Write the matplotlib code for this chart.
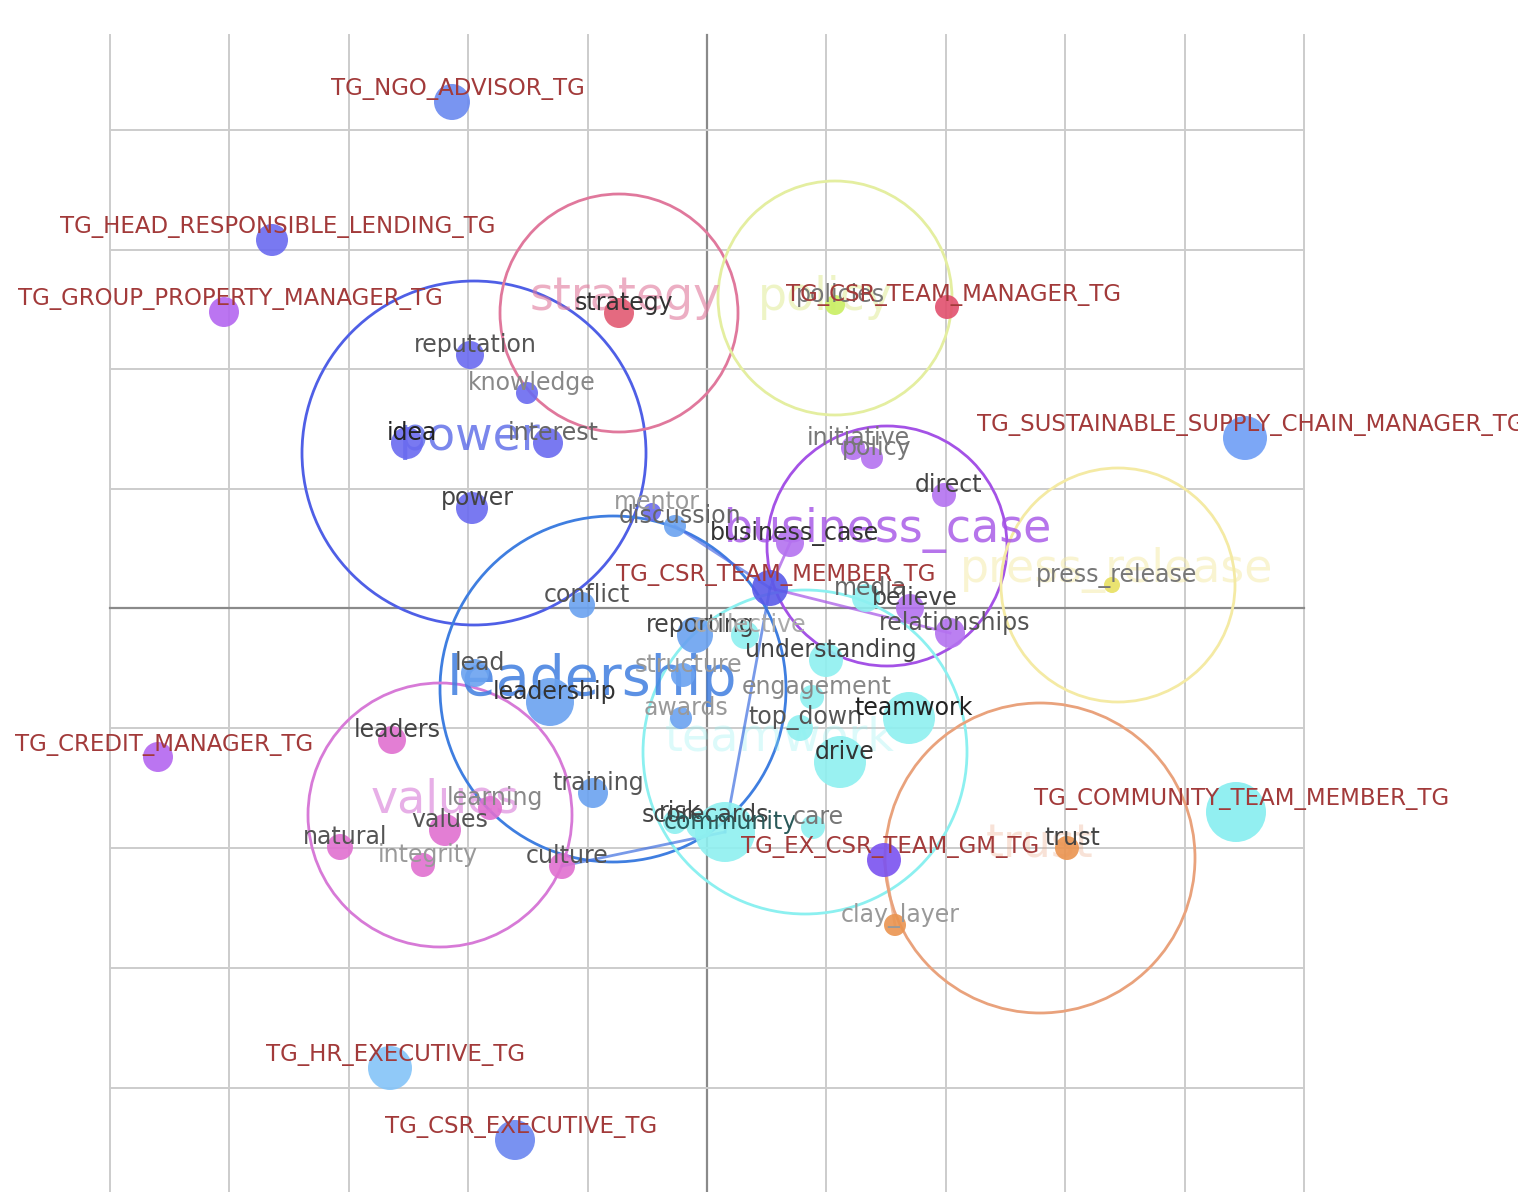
import matplotlib.pyplot as plt
from matplotlib.patches import Circle

# grid (image pixel coordinates, y grows downwards)
grid_x = [110, 229, 349, 468, 588, 707, 826, 946, 1065, 1185, 1304]
grid_y = [130, 250, 369, 489, 608, 728, 848, 968, 1088]
centre_x, centre_y = 707, 608

# themes: name, circle centre, radius, colour, label position
theme_names = ["power", "strategy", "policy", "business_case", "press_release",
               "leadership", "teamwork", "values", "trust"]
theme_x = [474, 619, 835, 887, 1118, 613, 805, 440, 1040]
theme_y = [453, 313, 298, 546, 585, 689, 752, 815, 858]
theme_r = [172, 119, 117, 120, 117, 173, 162, 132, 155]
theme_col = ["#4f5fe6", "#e0789c", "#e4eea0", "#a452e6", "#f4eaa4",
             "#3f7ee0", "#8cf0f0", "#d77ad7", "#e9a27c"]
theme_lx = [470, 625, 825, 888, 1117, 592, 780, 445, 1040]
theme_ly = [438, 298, 298, 530, 570, 680, 738, 800, 845]
theme_alpha = [0.75, 0.6, 0.6, 0.8, 0.5, 0.85, 0.3, 0.6, 0.3]

# concepts: label, dot x, dot y, dot radius, dot colour, text colour
node_names = ["strategy", "policies", "reputation", "knowledge", "idea", "interest",
              "power", "initiative", "policy", "direct", "mentor", "discussion",
              "business_case", "media", "believe", "relationships", "press_release",
              "conflict", "reporting", "collective", "understanding", "lead",
              "structure", "leadership", "engagement", "awards", "top_down",
              "teamwork", "drive", "leaders", "training", "learning", "values",
              "natural", "integrity", "culture", "risk", "scorecards", "community",
              "care", "trust", "clay_layer"]
node_x = [619, 835, 470, 527, 407, 548, 472, 853, 872, 944, 652, 675, 790, 866, 910,
          950, 1112, 582, 695, 745, 826, 475, 683, 550, 812, 681, 800, 909, 840, 392,
          593, 490, 445, 340, 423, 562, 675, 700, 725, 813, 1067, 895]
node_y = [313, 305, 355, 393, 443, 443, 508, 448, 458, 495, 512, 526, 543, 598, 608,
          633, 585, 605, 635, 635, 660, 673, 675, 702, 697, 718, 728, 718, 762, 740,
          793, 808, 830, 847, 865, 866, 822, 825, 832, 827, 848, 925]
node_r = [15, 10, 14, 11, 16, 15, 16, 12, 11, 12, 9, 11, 14, 14, 14, 15, 8, 13, 18,
          14, 17, 14, 12, 24, 12, 11, 13, 26, 26, 14, 15, 12, 16, 13, 12, 13, 12, 14,
          30, 12, 12, 11]
node_col = ["#e25a72", "#c9ef62", "#6a6af0", "#6a6af0", "#6a6af0", "#6a6af0",
            "#6a6af0", "#b472f0", "#b472f0", "#b472f0", "#6a6af0", "#6aa2f0",
            "#b472f0", "#8ef0f0", "#b472f0", "#b472f0", "#e8e060", "#6aa2f0",
            "#6aa2f0", "#8ef0f0", "#8ef0f0", "#6aa2f0", "#6aa2f0", "#6aa2f0",
            "#8ef0f0", "#6aa2f0", "#8ef0f0", "#8ef0f0", "#8ef0f0", "#e070d0",
            "#6aa2f0", "#e070d0", "#e070d0", "#e070d0", "#e070d0", "#e070d0",
            "#8ef0f0", "#8ef0f0", "#8ef0f0", "#8ef0f0", "#ea9450", "#ea9450"]
node_txt = ["#333333", "#777777", "#555555", "#888888", "#222222", "#666666",
            "#444444", "#777777", "#777777", "#444444", "#999999", "#666666",
            "#333333", "#666666", "#444444", "#555555", "#777777", "#555555",
            "#444444", "#aaaaaa", "#444444", "#555555", "#999999", "#333333",
            "#888888", "#999999", "#555555", "#222222", "#333333", "#444444",
            "#555555", "#888888", "#555555", "#555555", "#999999", "#555555",
            "#444444", "#444444", "#2a5a5a", "#777777", "#444444", "#999999"]

# actors (TG_ tags)
actor_names = ["TG_NGO_ADVISOR_TG", "TG_HEAD_RESPONSIBLE_LENDING_TG",
               "TG_GROUP_PROPERTY_MANAGER_TG", "TG_CSR_TEAM_MANAGER_TG",
               "TG_SUSTAINABLE_SUPPLY_CHAIN_MANAGER_TG", "TG_CSR_TEAM_MEMBER_TG",
               "TG_CREDIT_MANAGER_TG", "TG_COMMUNITY_TEAM_MEMBER_TG",
               "TG_EX_CSR_TEAM_GM_TG", "TG_HR_EXECUTIVE_TG", "TG_CSR_EXECUTIVE_TG"]
actor_x = [452, 272, 224, 947, 1245, 770, 158, 1236, 884, 390, 515]
actor_y = [102, 240, 312, 307, 438, 588, 757, 812, 860, 1068, 1140]
actor_r = [18, 16, 15, 12, 22, 18, 15, 30, 17, 22, 20]
actor_col = ["#6a8af0", "#6a6af0", "#b466f0", "#e2506e", "#6e9ef5", "#5a5ae8",
             "#b466f0", "#86eef0", "#7a52f0", "#84c4f8", "#6a86f0"]

# a few concept paths (pairs of node / actor names)
paths = [("business_case", "TG_CSR_TEAM_MEMBER_TG", "#a452e6"),
         ("TG_CSR_TEAM_MEMBER_TG", "relationships", "#a452e6"),
         ("discussion", "TG_CSR_TEAM_MEMBER_TG", "#4f6fe6"),
         ("TG_CSR_TEAM_MEMBER_TG", "community", "#3f6fe0"),
         ("culture", "community", "#3f6fe0"),
         ("TG_EX_CSR_TEAM_GM_TG", "clay_layer", "#e9a27c")]

fig = plt.figure(figsize=(15.18, 11.92), dpi=100)
ax = fig.add_axes([0, 0, 1, 1])
ax.set_xlim(0, 1518)
ax.set_ylim(1192, 0)
ax.set_aspect("equal")
ax.axis("off")

# grid
for gx in grid_x:
    dark = gx == centre_x
    ax.plot([gx, gx], [35, 1192], color="#8a8a8a" if dark else "#cccccc",
            lw=1.6 if dark else 1.4, zorder=0)
for gy in grid_y:
    dark = gy == centre_y
    ax.plot([grid_x[0], grid_x[-1]], [gy, gy], color="#8a8a8a" if dark else "#cccccc",
            lw=1.6 if dark else 1.4, zorder=0)

# theme circles
for i in range(len(theme_names)):
    ax.add_patch(Circle((theme_x[i], theme_y[i]), theme_r[i], fill=False,
                        ec=theme_col[i], lw=2, zorder=1))

# theme labels
for i in range(len(theme_names)):
    size = 40 if theme_names[i] == "leadership" else 33
    ax.text(theme_lx[i], theme_ly[i], theme_names[i], color=theme_col[i],
            alpha=theme_alpha[i], fontsize=size, ha="center", va="center", zorder=2)

# paths
pos = {}
for n, x, y in zip(node_names, node_x, node_y):
    pos.setdefault(n, (x, y))
for n, x, y in zip(actor_names, actor_x, actor_y):
    pos[n] = (x, y)
for a, b, c in paths:
    ax.plot([pos[a][0], pos[b][0]], [pos[a][1], pos[b][1]], color=c, lw=2,
            alpha=0.7, zorder=2)

# concept dots and labels
for i in range(len(node_names)):
    ax.add_patch(Circle((node_x[i], node_y[i]), node_r[i], color=node_col[i],
                        alpha=0.9, lw=0, zorder=3))
for i in range(len(node_names)):
    ax.text(node_x[i] + 5, node_y[i] - 10, node_names[i], color=node_txt[i],
            fontsize=17, ha="center", va="center", zorder=4)

# actor dots and labels
for i in range(len(actor_names)):
    ax.add_patch(Circle((actor_x[i], actor_y[i]), actor_r[i], color=actor_col[i],
                        alpha=0.9, lw=0, zorder=3))
for i in range(len(actor_names)):
    ax.text(actor_x[i] + 6, actor_y[i] - 13, actor_names[i], color="#a23a3a",
            fontsize=16.5, ha="center", va="center", zorder=4, clip_on=True)

fig.savefig("out.png", dpi=100)
